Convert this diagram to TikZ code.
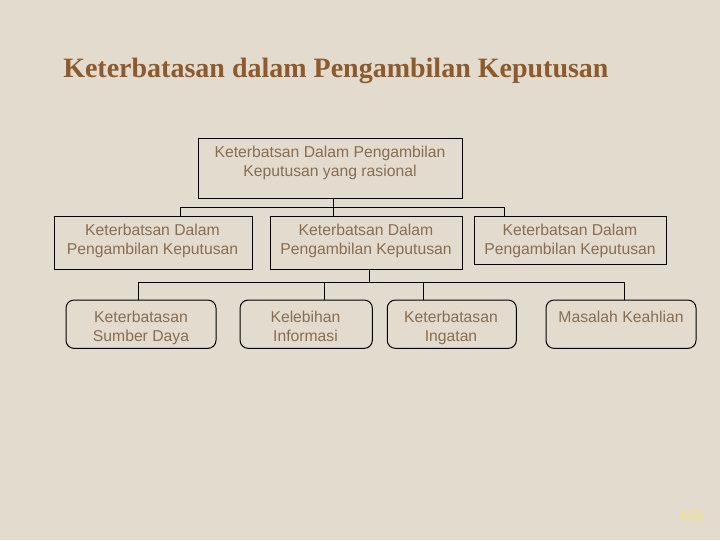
\documentclass[tikz,border=0pt]{standalone}
\usepackage{fontspec}
\setmainfont{Liberation Serif}
\setsansfont{Liberation Sans}
\usepackage{tikz}

\definecolor{paper}{RGB}{227,219,206}
\definecolor{titlebrown}{RGB}{140,90,45}
\definecolor{boxtext}{RGB}{135,110,82}
\definecolor{pagenum}{RGB}{250,230,90}

\tikzset{
  sqbox/.style={draw, line width=0.75, inner sep=0pt},
  rdbox/.style={draw, line width=0.75, inner sep=0pt, rounded corners=6pt},
  boxlabel/.style={anchor=north, inner sep=0.75pt, align=center, text=boxtext, font=\sffamily\fontsize{11.8}{14.25}\selectfont},
}

\begin{document}
\begin{tikzpicture}[x=0.75pt,y=0.75pt,yscale=-1,xscale=1]
%set diagram to the size of the slide
\path [fill=paper] (0,0) rectangle (720,540);

% Title
\draw (63,71) node (title) [anchor=west][inner sep=0pt] [font=\bfseries\fontsize{21}{25}\selectfont, text=titlebrown] {Keterbatasan dalam Pengambilan Keputusan};

%Shape: Rectangle [top]
\node (top) [sqbox, minimum width=198.3pt, minimum height=45pt] at (330.5,168.3) {};
%Shape: Rectangle [row 1]
\node (k1) [sqbox, minimum width=148.5pt, minimum height=40pt] at (153.3,243.3) {};
\node (k2) [sqbox, minimum width=144.3pt, minimum height=40pt] at (366.5,243.3) {};
\node (k3) [sqbox, minimum width=144pt, minimum height=36pt] at (570.3,240) {};
%Shape: Rounded Rect [row 2]
\node (s1) [rdbox, minimum width=112.5pt, minimum height=36.2pt] at (141,324.2) {};
\node (s2) [rdbox, minimum width=99.2pt, minimum height=36.2pt] at (306.2,324.2) {};
\node (s3) [rdbox, minimum width=96.8pt, minimum height=36.2pt] at (451.8,324.2) {};
\node (s4) [rdbox, minimum width=112.5pt, minimum height=36.2pt] at (621,324.2) {};

%Straight Lines [top to row 1]
\coordinate (ja) at (180,207.3);
\coordinate (jb) at (333.3,207.3);
\coordinate (jc) at (504.3,207.3);
\draw [line width=0.75] (jb |- top.south) -- (jb |- k2.north) ;
\draw [line width=0.75] (ja |- k1.north) -- (ja) -- (jc) -- (jc |- k3.north) ;
%Straight Lines [row 1 to row 2]
\coordinate (ma) at (138.3,282.3);
\coordinate (mb) at (324.3,282.3);
\coordinate (mc) at (369.3,282.3);
\coordinate (md) at (423.3,282.3);
\coordinate (me) at (624.3,282.3);
\draw [line width=0.75] (mc |- k2.south) -- (mc) ;
\draw [line width=0.75] (ma |- s1.north) -- (ma) -- (me) -- (me |- s4.north) ;
\draw [line width=0.75] (mb) -- (mb |- s2.north) ;
\draw [line width=0.75] (md) -- (md |- s3.north) ;

% Text Node
\node (ttop) [boxlabel] at (330,143.4) {\strut Keterbatsan Dalam Pengambilan\\\strut Keputusan yang rasional};
% Text Node
\node (tk1) [boxlabel] at (152.5,221.2) {\strut Keterbatsan Dalam\\\strut Pengambilan Keputusan};
% Text Node
\node (tk2) [boxlabel] at (366,221.2) {\strut Keterbatsan Dalam\\\strut Pengambilan Keputusan};
% Text Node
\node (tk3) [boxlabel] at (570,221.2) {\strut Keterbatsan Dalam\\\strut Pengambilan Keputusan};
% Text Node
\node (ts1) [boxlabel] at (141,308.2) {\strut Keterbatasan\\\strut Sumber Daya};
% Text Node
\node (ts2) [boxlabel] at (305.5,308.2) {\strut Kelebihan\\\strut Informasi};
% Text Node
\node (ts3) [boxlabel] at (451,308.2) {\strut Keterbatasan\\\strut Ingatan};
% Text Node
\node (ts4) [boxlabel] at (621,308.2) {\strut Masalah Keahlian};

% page number
\node (pg) [inner sep=0pt, text=pagenum, font=\sffamily\fontsize{9}{10}\selectfont] at (691.5,515.5) {1-21};
\end{tikzpicture}
\end{document}
